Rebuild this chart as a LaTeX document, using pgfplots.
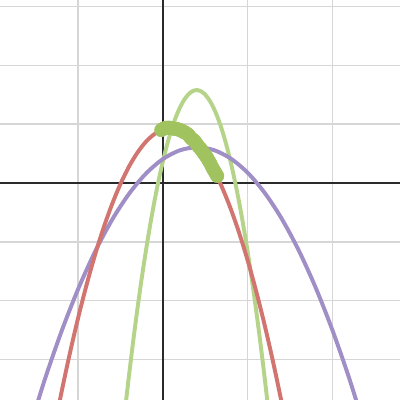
\documentclass[border=0pt]{standalone}
\usepackage{pgfplots}
\pgfplotsset{compat=1.18}
\definecolor{curvered}{HTML}{D27570}
\definecolor{curvepurple}{HTML}{A08EC6}
\definecolor{curvegreen}{HTML}{B5D48A}
\definecolor{pointgreen}{HTML}{A0C35F}
\definecolor{gridgray}{HTML}{D6D6D6}
\definecolor{axisblack}{HTML}{2A2A2A}

\begin{document}
\begin{tikzpicture}
\begin{axis}[
    name=ax,
    scale only axis,
    width=10cm, height=10cm,
    xmin=-1.924, xmax=2.798,
    ymin=-3.69, ymax=3.112,
    xtick={-1,0,1,2}, ytick={-3,-2,-1,0,1,2,3},
    xticklabels={}, yticklabels={},
    major tick length=0pt,
    grid=major,
    grid style={draw=gridgray, line width=1.1pt},
    axis line style={draw=none},
    clip=true,
]
% coordinate axes
\addplot[axisblack, line width=1.4pt] coordinates {(-1.924,0) (2.798,0)};
\addplot[axisblack, line width=1.4pt] coordinates {(0,-3.69) (0,3.112)};

% data points
\addplot[only marks, mark=*, mark size=4.8pt, color=pointgreen] coordinates {
(-0.02,0.90) (0.00,0.92) (0.02,0.93) (0.04,0.94) (0.06,0.94) (0.08,0.94)
(0.10,0.93) (0.12,0.93) (0.14,0.92) (0.16,0.92) (0.18,0.91) (0.20,0.90)
(0.22,0.89) (0.24,0.87) (0.26,0.86) (0.28,0.84) (0.30,0.82) (0.32,0.78)
(0.34,0.75) (0.36,0.73) (0.38,0.70) (0.40,0.66) (0.42,0.62) (0.44,0.59)
(0.46,0.55) (0.48,0.51) (0.50,0.47) (0.52,0.43) (0.54,0.38) (0.56,0.33)
(0.58,0.27) (0.60,0.22) (0.62,0.17) (0.64,0.12)
};

% green curve
\addplot[curvegreen, line width=2.8pt, smooth] coordinates {
(-0.50,-4.549) (-0.45,-3.885) (-0.40,-3.260) (-0.35,-2.672) (-0.30,-2.123)
(-0.25,-1.611) (-0.20,-1.138) (-0.15,-0.702) (-0.10,-0.305) (-0.05,0.055)
(0.00,0.376) (0.05,0.660) (0.10,0.905) (0.15,1.113) (0.20,1.282)
(0.25,1.414) (0.30,1.507) (0.35,1.563) (0.40,1.580) (0.45,1.559)
(0.50,1.501) (0.55,1.404) (0.60,1.270) (0.65,1.097) (0.70,0.887)
(0.75,0.638) (0.80,0.352) (0.85,0.027) (0.90,-0.335) (0.95,-0.736)
(1.00,-1.174) (1.05,-1.651) (1.10,-2.165) (1.15,-2.718) (1.20,-3.308)
(1.25,-3.937) (1.30,-4.603)
};

% purple curve
\addplot[curvepurple, line width=2.8pt, smooth] coordinates {
(-1.6,-4.293) (-1.4,-3.363) (-1.2,-2.532) (-1.0,-1.798) (-0.8,-1.162)
(-0.6,-0.623) (-0.4,-0.182) (-0.2,0.162) (0.0,0.408) (0.2,0.556)
(0.4,0.607) (0.6,0.560) (0.8,0.416) (1.0,0.174) (1.2,-0.166)
(1.4,-0.603) (1.6,-1.138) (1.8,-1.771) (2.0,-2.501) (2.2,-3.328)
(2.4,-4.253)
};

% red curve
\addplot[curvered, line width=2.8pt, smooth] coordinates {
(-1.3,-4.299) (-1.2,-3.573) (-1.1,-2.901) (-1.0,-2.284) (-0.9,-1.721)
(-0.8,-1.212) (-0.7,-0.757) (-0.6,-0.357) (-0.5,-0.010) (-0.4,0.282)
(-0.3,0.520) (-0.2,0.704) (-0.1,0.833) (0.0,0.909) (0.1,0.930)
(0.2,0.897) (0.3,0.809) (0.4,0.668) (0.5,0.472) (0.6,0.222)
(0.7,-0.082) (0.8,-0.440) (0.9,-0.852) (1.0,-1.319) (1.1,-1.840)
(1.2,-2.415) (1.3,-3.044) (1.4,-3.728) (1.5,-4.465)
};
\end{axis}
\pgfresetboundingbox
\useasboundingbox (ax.south west) rectangle (ax.north east);
\end{tikzpicture}
\end{document}
